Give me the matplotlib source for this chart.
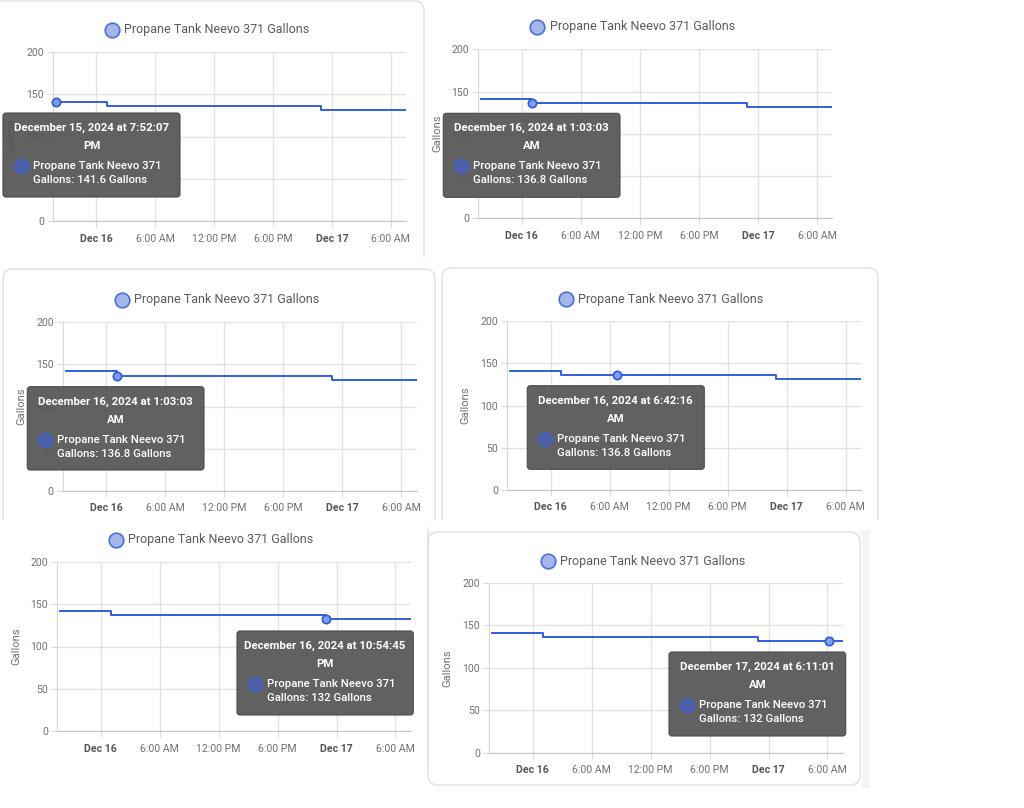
import datetime as dtm
import matplotlib
matplotlib.use("Agg")
import matplotlib.pyplot as plt
from matplotlib.patches import FancyBboxPatch, Rectangle

plt.rcParams['font.family'] = ['Roboto', 'DejaVu Sans']

# readings of the tank sensor
times = ["2024-12-15 19:52:07", "2024-12-16 01:03:03", "2024-12-16 06:42:16",
         "2024-12-16 22:54:45", "2024-12-17 06:11:01", "2024-12-17 07:33:00"]
gallons = [141.6, 136.8, 136.8, 132, 132, 132]
series_name = "Propane Tank Neevo 371 Gallons"
tooltip_name = ["Propane Tank Neevo 371", "Gallons"]
unit = "Gallons"

x_range = ["2024-12-15 19:35", "2024-12-17 07:33"]
x_ticks = ["2024-12-16 00:00", "2024-12-16 06:00", "2024-12-16 12:00",
           "2024-12-16 18:00", "2024-12-17 00:00", "2024-12-17 06:00"]
x_labels = ["Dec 16", "6:00 AM", "12:00 PM", "6:00 PM", "Dec 17", "6:00 AM"]
bold_labels = ["Dec 16", "Dec 17"]
y_ticks = [0, 50, 100, 150, 200]

# which reading is hovered in each of the six screenshots
hovered = [0, 1, 1, 2, 3, 4]

W, H = 1024, 808

# layout of each screenshot, in pixels from the top left
panels = [
    dict(plot=(53, 52.3, 406, 221), legend=(112, 30), ylab=(11, 137), tip=(3, 113, 180, 197)),
    dict(plot=(478.3, 49.3, 832.3, 218.3), legend=(537.3, 26.7), ylab=(437, 133), tip=(443.3, 113.3, 620, 197.3)),
    dict(plot=(62.7, 322.3, 416.7, 490.7), legend=(121.7, 300), ylab=(21, 406.7), tip=(27.3, 386.7, 204, 470)),
    dict(plot=(507.3, 321.3, 861, 490), legend=(566, 299), ylab=(465.7, 405.7), tip=(527.3, 385.7, 704.3, 469.3)),
    dict(plot=(57.3, 562, 410.7, 731), legend=(116, 540), ylab=(16, 646.7), tip=(237, 631, 413.3, 715)),
    dict(plot=(489.3, 583, 842.7, 752.7), legend=(548, 561), ylab=(447.7, 668.3), tip=(669, 652, 845.7, 736)),
]
# card outline, then the part of it that shows in the screenshot
cards = [
    ((-20, 1, 424, 300), (0, 0, 430, 257)),
    ((3, 269, 435, 560), (0, 262, 440, 520)),
    ((442, 268, 878, 560), (438, 262, 885, 520)),
    ((-20, 500, 428, 800), (0, 527, 432, 763)),
    ((428, 532, 860, 785), (420, 525, 870, 800)),
]

LINE = '#2152dc'
GRID = '#e2e2e2'
TICK_TXT = '#707070'

t = [dtm.datetime.fromisoformat(s) for s in times]
xr = [dtm.datetime.fromisoformat(s) for s in x_range]
xt = [dtm.datetime.fromisoformat(s) for s in x_ticks]


def tip_title(d):
    hour = d.hour % 12 or 12
    ampm = "AM" if d.hour < 12 else "PM"
    return f"{d:%B} {d.day}, {d.year} at {hour}:{d:%M:%S}", ampm


fig = plt.figure(figsize=(W / 100, H / 100), dpi=100)
fig.patch.set_facecolor('white')

ov = fig.add_axes([0, 0, 1, 1], zorder=10)
ov.set_xlim(0, W)
ov.set_ylim(H, 0)
ov.axis('off')
ov.patch.set_alpha(0)

# card outlines
for (x0, y0, x1, y1), (cx0, cy0, cx1, cy1) in cards:
    card = FancyBboxPatch((x0, y0), x1 - x0, y1 - y0,
                          boxstyle='round,pad=0,rounding_size=10',
                          fc='none', ec='#e0e0e0', lw=1.0, zorder=0)
    ov.add_patch(card)
    clip = Rectangle((cx0, cy0), cx1 - cx0, cy1 - cy0, transform=ov.transData)
    card.set_clip_path(clip)
ov.add_patch(Rectangle((862, 530), 8, 258, fc='#f4f4f4', ec='none', zorder=0))

for p, h in zip(panels, hovered):
    x0, ytop, x1, ybot = p['plot']
    ax = fig.add_axes([x0 / W, 1 - ybot / H, (x1 - x0) / W, (ybot - ytop) / H])
    ax.plot(t, gallons, drawstyle='steps-post', color=LINE, lw=1.3, zorder=3)
    ax.plot(t[h], gallons[h], 'o', ms=6, mfc='#809de9', mec='#2d5bd8', mew=1.2,
            zorder=4, clip_on=False)
    ax.set_xlim(xr)
    ax.set_ylim(0, 200)
    ax.set_xticks(xt)
    ax.set_xticklabels(x_labels)
    ax.set_yticks(y_ticks)
    ax.grid(color=GRID, lw=1)
    ax.set_axisbelow(True)
    for s in ['top', 'right']:
        ax.spines[s].set_visible(False)
    ax.spines['left'].set_color('#d8d8d8')
    ax.spines['bottom'].set_color('#c4c4c4')
    ax.tick_params(length=4, color='#dadada', labelcolor=TICK_TXT, labelsize=7.6)
    ax.tick_params(axis='x', pad=5)
    ax.tick_params(axis='y', pad=2.5)
    for lab in ax.get_xticklabels():
        if lab.get_text() in bold_labels:
            lab.set_fontweight('bold')
            lab.set_color('#555555')

    # legend
    lx, ly = p['legend']
    ov.plot(lx, ly, 'o', ms=10.5, mfc='#a4b6ea', mec='#4d6fd8', mew=1.2)
    ov.text(lx + 12.5, ly, series_name, fontsize=9, color='#5a5a5a', va='center', ha='left')

    # y label
    yx, yy = p['ylab']
    ov.text(yx, yy, unit, fontsize=8, color=TICK_TXT, rotation=90, va='center', ha='center',
            zorder=0)

    # tooltip, slightly see-through like the original
    tx0, ty0, tx1, ty1 = p['tip']
    ov.add_patch(FancyBboxPatch((tx0, ty0), tx1 - tx0, ty1 - ty0,
                                boxstyle='round,pad=0,rounding_size=3',
                                fc=(0.33, 0.33, 0.33, 0.92), ec='#4a4a4a', lw=0.8, zorder=5))
    line1, line2 = tip_title(t[h])
    cx = (tx0 + tx1) / 2
    ov.text(cx, ty0 + 15, line1, fontsize=8.2, fontweight='bold', color='white',
            ha='center', va='center', zorder=6)
    ov.text(cx, ty0 + 33, line2, fontsize=8.2, fontweight='bold', color='white',
            ha='center', va='center', zorder=6)
    ov.plot(tx0 + 18, ty0 + 53, 'o', ms=10, mfc='#4f60a6', mec='#3f60d0', mew=1.0, zorder=6)
    ov.text(tx0 + 30, ty0 + 53, tooltip_name[0], fontsize=8.2, fontweight='medium',
            color='white', ha='left', va='center', zorder=6)
    ov.text(tx0 + 30, ty0 + 67, f"{tooltip_name[1]}: {gallons[h]:g} {unit}", fontsize=8.2,
            fontweight='medium', color='white', ha='left', va='center', zorder=6)

fig.savefig('out.png', dpi=100, facecolor='white')
